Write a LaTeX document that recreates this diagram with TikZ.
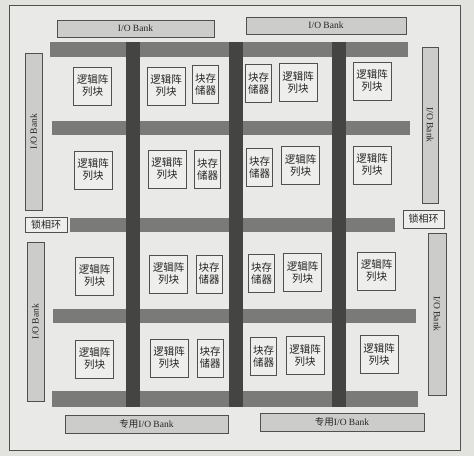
\documentclass[tikz,border=0pt]{standalone}
\usepackage{fontspec}
\setmainfont{Liberation Serif}
\newfontfamily\cjk{Noto Sans CJK SC}
\definecolor{paper}{RGB}{226,226,223}
\definecolor{inner}{RGB}{233,233,231}
\definecolor{blockfill}{RGB}{238,238,236}
\definecolor{iofill}{RGB}{204,204,202}
\definecolor{hbus}{RGB}{122,122,120}
\definecolor{vbus}{RGB}{68,68,66}
\definecolor{edge}{RGB}{80,80,78}
\tikzset{
  lab/.style={draw=edge, line width=1pt, fill=blockfill, minimum width=38pt, minimum height=38pt,
    inner sep=0pt, align=center, font=\cjk\fontsize{10.5}{12}\selectfont, text=black!85},
  bram/.style={lab, minimum width=26pt},
  iobank/.style={draw=edge, line width=0.9pt, fill=iofill, inner sep=0pt, font=\fontsize{9.5}{10}\selectfont, text=black!85},
  pll/.style={draw=edge, line width=1pt, fill=blockfill, inner sep=0pt, font=\cjk\fontsize{10}{10}\selectfont, text=black!85},
  hb/.style={fill=hbus},
  vb/.style={fill=vbus}
}
\begin{document}
\begin{tikzpicture}[x=1pt,y=-1pt]
\useasboundingbox (0,0) rectangle (474,456);
\fill[paper] (0,0) rectangle (474,456);
\draw[edge, line width=1pt, fill=inner] (9,5) rectangle (460,450);

% horizontal buses
\fill[hb] (50,42) rectangle (408,57);
\fill[hb] (52,121) rectangle (410,135);
\fill[hb] (70,218) rectangle (395,232);
\fill[hb] (53,309) rectangle (416,323);
\fill[hb] (52,391) rectangle (418,407);
% vertical buses
\fill[vb] (126,42) rectangle (140,407);
\fill[vb] (229,42) rectangle (243,407);
\fill[vb] (332,42) rectangle (346,407);

% I/O banks
\node[iobank, minimum width=157pt, minimum height=17pt] (iot1) at (135.5,28.5) {I/O Bank};
\node[iobank, minimum width=160pt, minimum height=17pt] (iot2) at (326,25.5) {I/O Bank};
\node[iobank, minimum width=157pt, minimum height=17pt, rotate=90] (iol1) at (33.5,131.5) {I/O Bank};
\node[iobank, minimum width=159pt, minimum height=17pt, rotate=90] (iol2) at (35.5,321.5) {I/O Bank};
\node[iobank, minimum width=156pt, minimum height=16pt, rotate=-90] (ior1) at (430,125) {I/O Bank};
\node[iobank, minimum width=162pt, minimum height=18pt, rotate=-90] (ior2) at (437,314) {I/O Bank};
\node[iobank, minimum width=163pt, minimum height=18pt] (iob1) at (146.5,424) {{\cjk 专用}I/O Bank};
\node[iobank, minimum width=164pt, minimum height=18pt] (iob2) at (342,422) {{\cjk 专用}I/O Bank};
% PLLs
\node[pll, minimum width=42pt, minimum height=15pt] (pll1) at (46,224.5) {锁相环};
\node[pll, minimum width=41pt, minimum height=18pt] (pll2) at (423.5,219) {锁相环};

% row 1
\node[lab]  (a1) at (92.5,86)   {逻辑阵\\列块};
\node[lab]  (a2) at (166,86)    {逻辑阵\\列块};
\node[bram] (a3) at (205.5,84.5){块存\\储器};
\node[bram] (a4) at (258.5,83.5){块存\\储器};
\node[lab]  (a5) at (298,82.5)  {逻辑阵\\列块};
\node[lab]  (a6) at (372,81)    {逻辑阵\\列块};
% row 2
\node[lab]  (b1) at (93,170)    {逻辑阵\\列块};
\node[lab]  (b2) at (167,169)   {逻辑阵\\列块};
\node[bram] (b3) at (207.5,169.5){块存\\储器};
\node[bram] (b4) at (259.5,167.5){块存\\储器};
\node[lab]  (b5) at (300.5,165.5){逻辑阵\\列块};
\node[lab]  (b6) at (372,165)   {逻辑阵\\列块};
% row 3
\node[lab]  (c1) at (94.5,276)  {逻辑阵\\列块};
\node[lab]  (c2) at (168.5,274) {逻辑阵\\列块};
\node[bram] (c3) at (209,274)   {块存\\储器};
\node[bram] (c4) at (261.5,273.5){块存\\储器};
\node[lab]  (c5) at (302.5,272.5){逻辑阵\\列块};
\node[lab]  (c6) at (376.5,271) {逻辑阵\\列块};
% row 4
\node[lab]  (d1) at (94.5,359)  {逻辑阵\\列块};
\node[lab]  (d2) at (169,358)   {逻辑阵\\列块};
\node[bram] (d3) at (210,358)   {块存\\储器};
\node[bram] (d4) at (263.5,356.5){块存\\储器};
\node[lab]  (d5) at (305,355.5) {逻辑阵\\列块};
\node[lab]  (d6) at (379,354.5) {逻辑阵\\列块};
\end{tikzpicture}
\end{document}
